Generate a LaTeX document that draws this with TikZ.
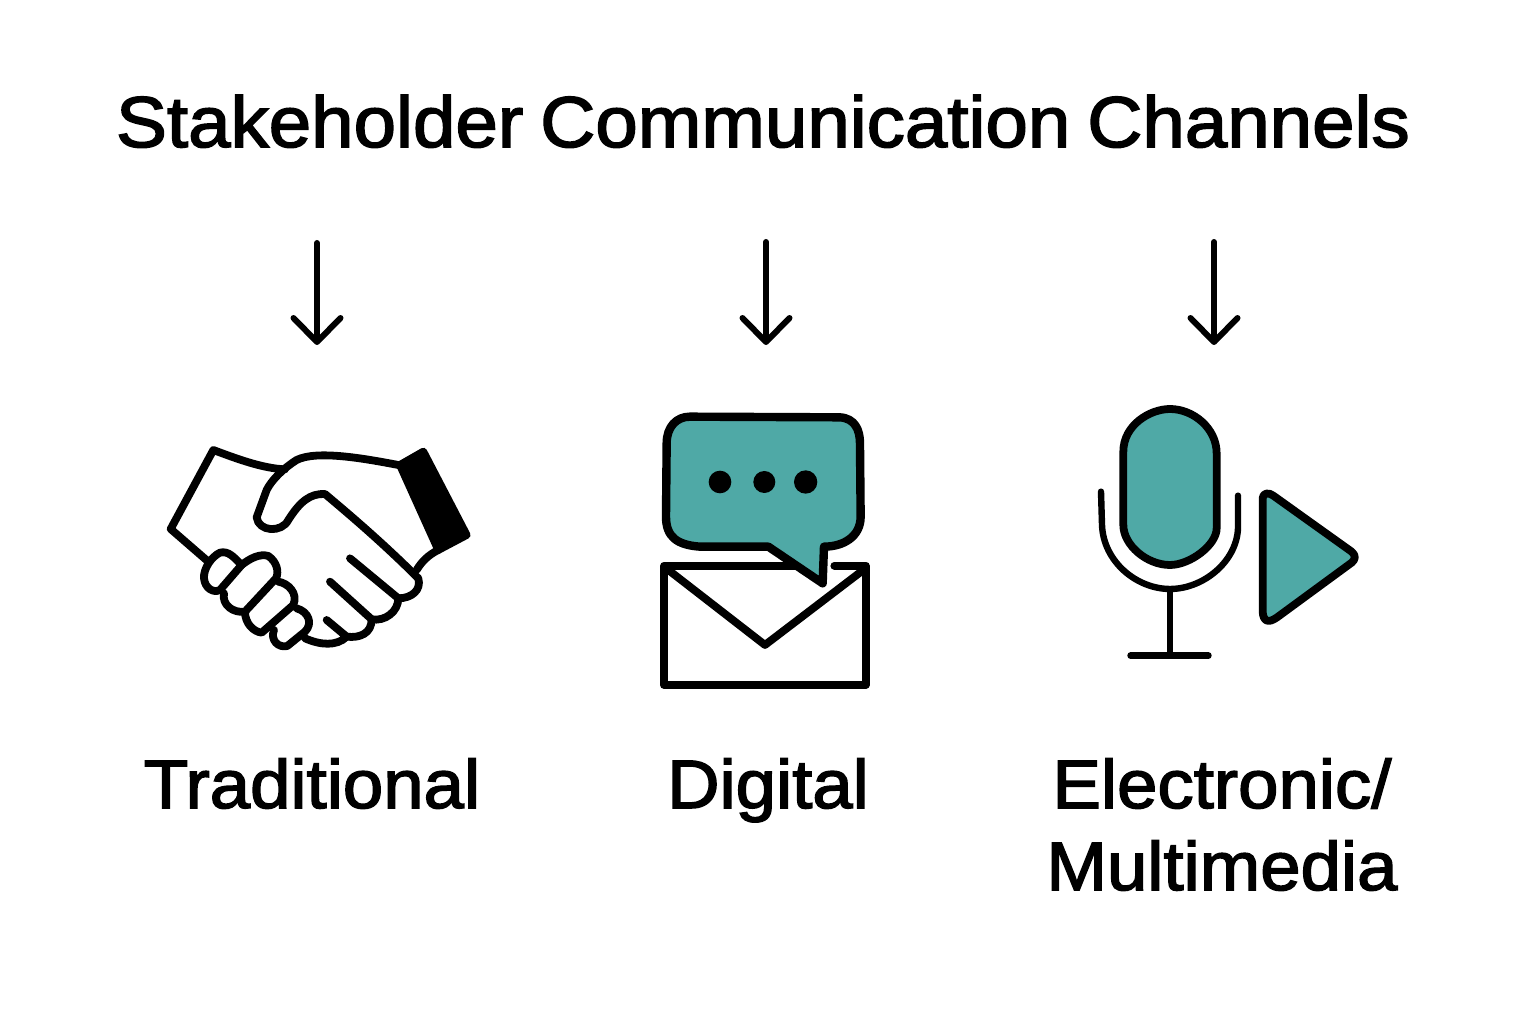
\documentclass[tikz,border=0pt]{standalone}
\usepackage{fontspec}
\setmainfont{Liberation Sans}[FakeBold=2.2,FakeStretch=1.06,WordSpace=0.8]
\usetikzlibrary{arrows.meta}
\definecolor{tealfill}{HTML}{4FA9A6}
\tikzset{
  heading/.style={anchor=base,inner sep=0pt,font=\fontsize{72}{72}\selectfont},
  label/.style={anchor=base,inner sep=0pt,align=center,font=\fontsize{68.5}{82}\selectfont},
  downarrow/.style={line width=6pt,line cap=round,line join=round,-{Straight Barb[length=24pt,width=47pt,line width=6pt,round]}},
  ink/.style={line width=7.8pt,line cap=round,line join=round,black},
  zoomed/.style={x=0.3333pt,y=-0.3333pt}
}
\begin{document}
\begin{tikzpicture}[x=1pt,y=-1pt]
\useasboundingbox (0,0) rectangle (1536,1024);
\fill[white] (0,0) rectangle (1536,1024);

\path (763,147) node[heading] (title) {Stakeholder Communication Channels};

\path (317,243) coordinate (a1);
\path (317,345) coordinate (a1tip);
\draw[downarrow] (a1) -- (a1tip);
\path (766,242) coordinate (a2);
\path (766,345) coordinate (a2tip);
\draw[downarrow] (a2) -- (a2tip);
\path (1214,242) coordinate (a3);
\path (1214,345) coordinate (a3tip);
\draw[downarrow] (a3) -- (a3tip);

\begin{scope}[shift={(150,430)},zoomed,ink]
\draw (405,118) .. controls (340,115) and (270,90) .. (190,60) -- (62,297) -- (175,395);
\fill[draw=black] (750,105) -- (820,65) -- (950,315) -- (865,360) -- cycle;
\draw (745,105) .. controls (640,85) and (500,60) .. (440,90) .. controls (400,115) and (365,150) .. (350,180) -- (320,262) .. controls (325,305) and (395,310) .. (415,270) .. controls (450,215) and (480,190) .. (525,192) .. controls (600,255) and (700,340) .. (805,445) .. controls (815,480) and (785,505) .. (745,505);
\draw (865,360) .. controls (835,375) and (815,395) .. (800,420);
\draw (600,385) -- (745,505) .. controls (745,545) and (705,575) .. (665,568);
\draw (540,455) -- (665,568) .. controls (665,610) and (630,625) .. (590,620);
\draw (530,570) -- (590,620) .. controls (560,650) and (510,645) .. (465,625);
\draw (275,405) .. controls (250,380) and (235,362) .. (210,368) .. controls (185,380) and (160,415) .. (162,445) .. controls (165,475) and (190,490) .. (210,480) -- cycle;
\draw (275,405) .. controls (300,385) and (330,370) .. (355,378) .. controls (380,395) and (388,425) .. (378,445) -- (285,545) .. controls (250,550) and (215,525) .. (222,490);
\draw (385,455) .. controls (415,460) and (445,490) .. (430,525) -- (335,608) .. controls (310,605) and (285,580) .. (285,545);
\draw (440,535) .. controls (475,545) and (490,580) .. (465,605) -- (412,648) .. controls (385,655) and (360,630) .. (372,600);
\end{scope}

\begin{scope}[shift={(640,400)},zoomed,ink]
\draw (470,497) -- (72,497) -- (72,855) -- (677,855) -- (677,497) -- (583,497);
\draw (85,510) -- (375,735) -- (670,510);
\filldraw[fill=tealfill,line width=8.4pt] (150,50) -- (600,52) .. controls (645,55) and (660,90) .. (660,130) -- (662,350) .. controls (662,410) and (610,440) .. (552,440) -- (548,550) -- (385,440) -- (180,440) .. controls (110,435) and (78,410) .. (78,350) -- (80,130) .. controls (80,80) and (110,50) .. (150,50) -- cycle;
\fill[black] (240,246) circle[radius=34];
\fill[black] (373,246) circle[radius=33];
\fill[black] (497,246) circle[radius=35];
\end{scope}

\begin{scope}[shift={(1080,395)},zoomed,ink]
\filldraw[fill=tealfill] (130,170) .. controls (130,90) and (210,42) .. (270,42) .. controls (340,42) and (410,100) .. (410,175) -- (410,400) .. controls (410,450) and (330,510) .. (270,510) .. controls (200,510) and (130,450) .. (130,390) -- cycle;
\draw[line width=6.4pt] (63,290) -- (66,390) .. controls (70,500) and (170,582) .. (270,582) .. controls (370,582) and (470,500) .. (474,400) -- (474,302);
\draw[line width=5.8pt] (270,590) -- (270,780);
\draw[line width=6.8pt] (152,782) -- (385,782);
\filldraw[fill=tealfill] (548,310) .. controls (548,295) and (565,290) .. (580,302) -- (815,470) .. controls (830,482) and (825,495) .. (815,503) -- (590,668) .. controls (565,685) and (550,680) .. (548,650) -- cycle;
\end{scope}

\path (312,808) node[label] (traditional) {Traditional};
\path (768,808) node[label] (digital) {Digital};
\path (1222,890) node[label] (multimedia) {Electronic/\\Multimedia};
\end{tikzpicture}
\end{document}
